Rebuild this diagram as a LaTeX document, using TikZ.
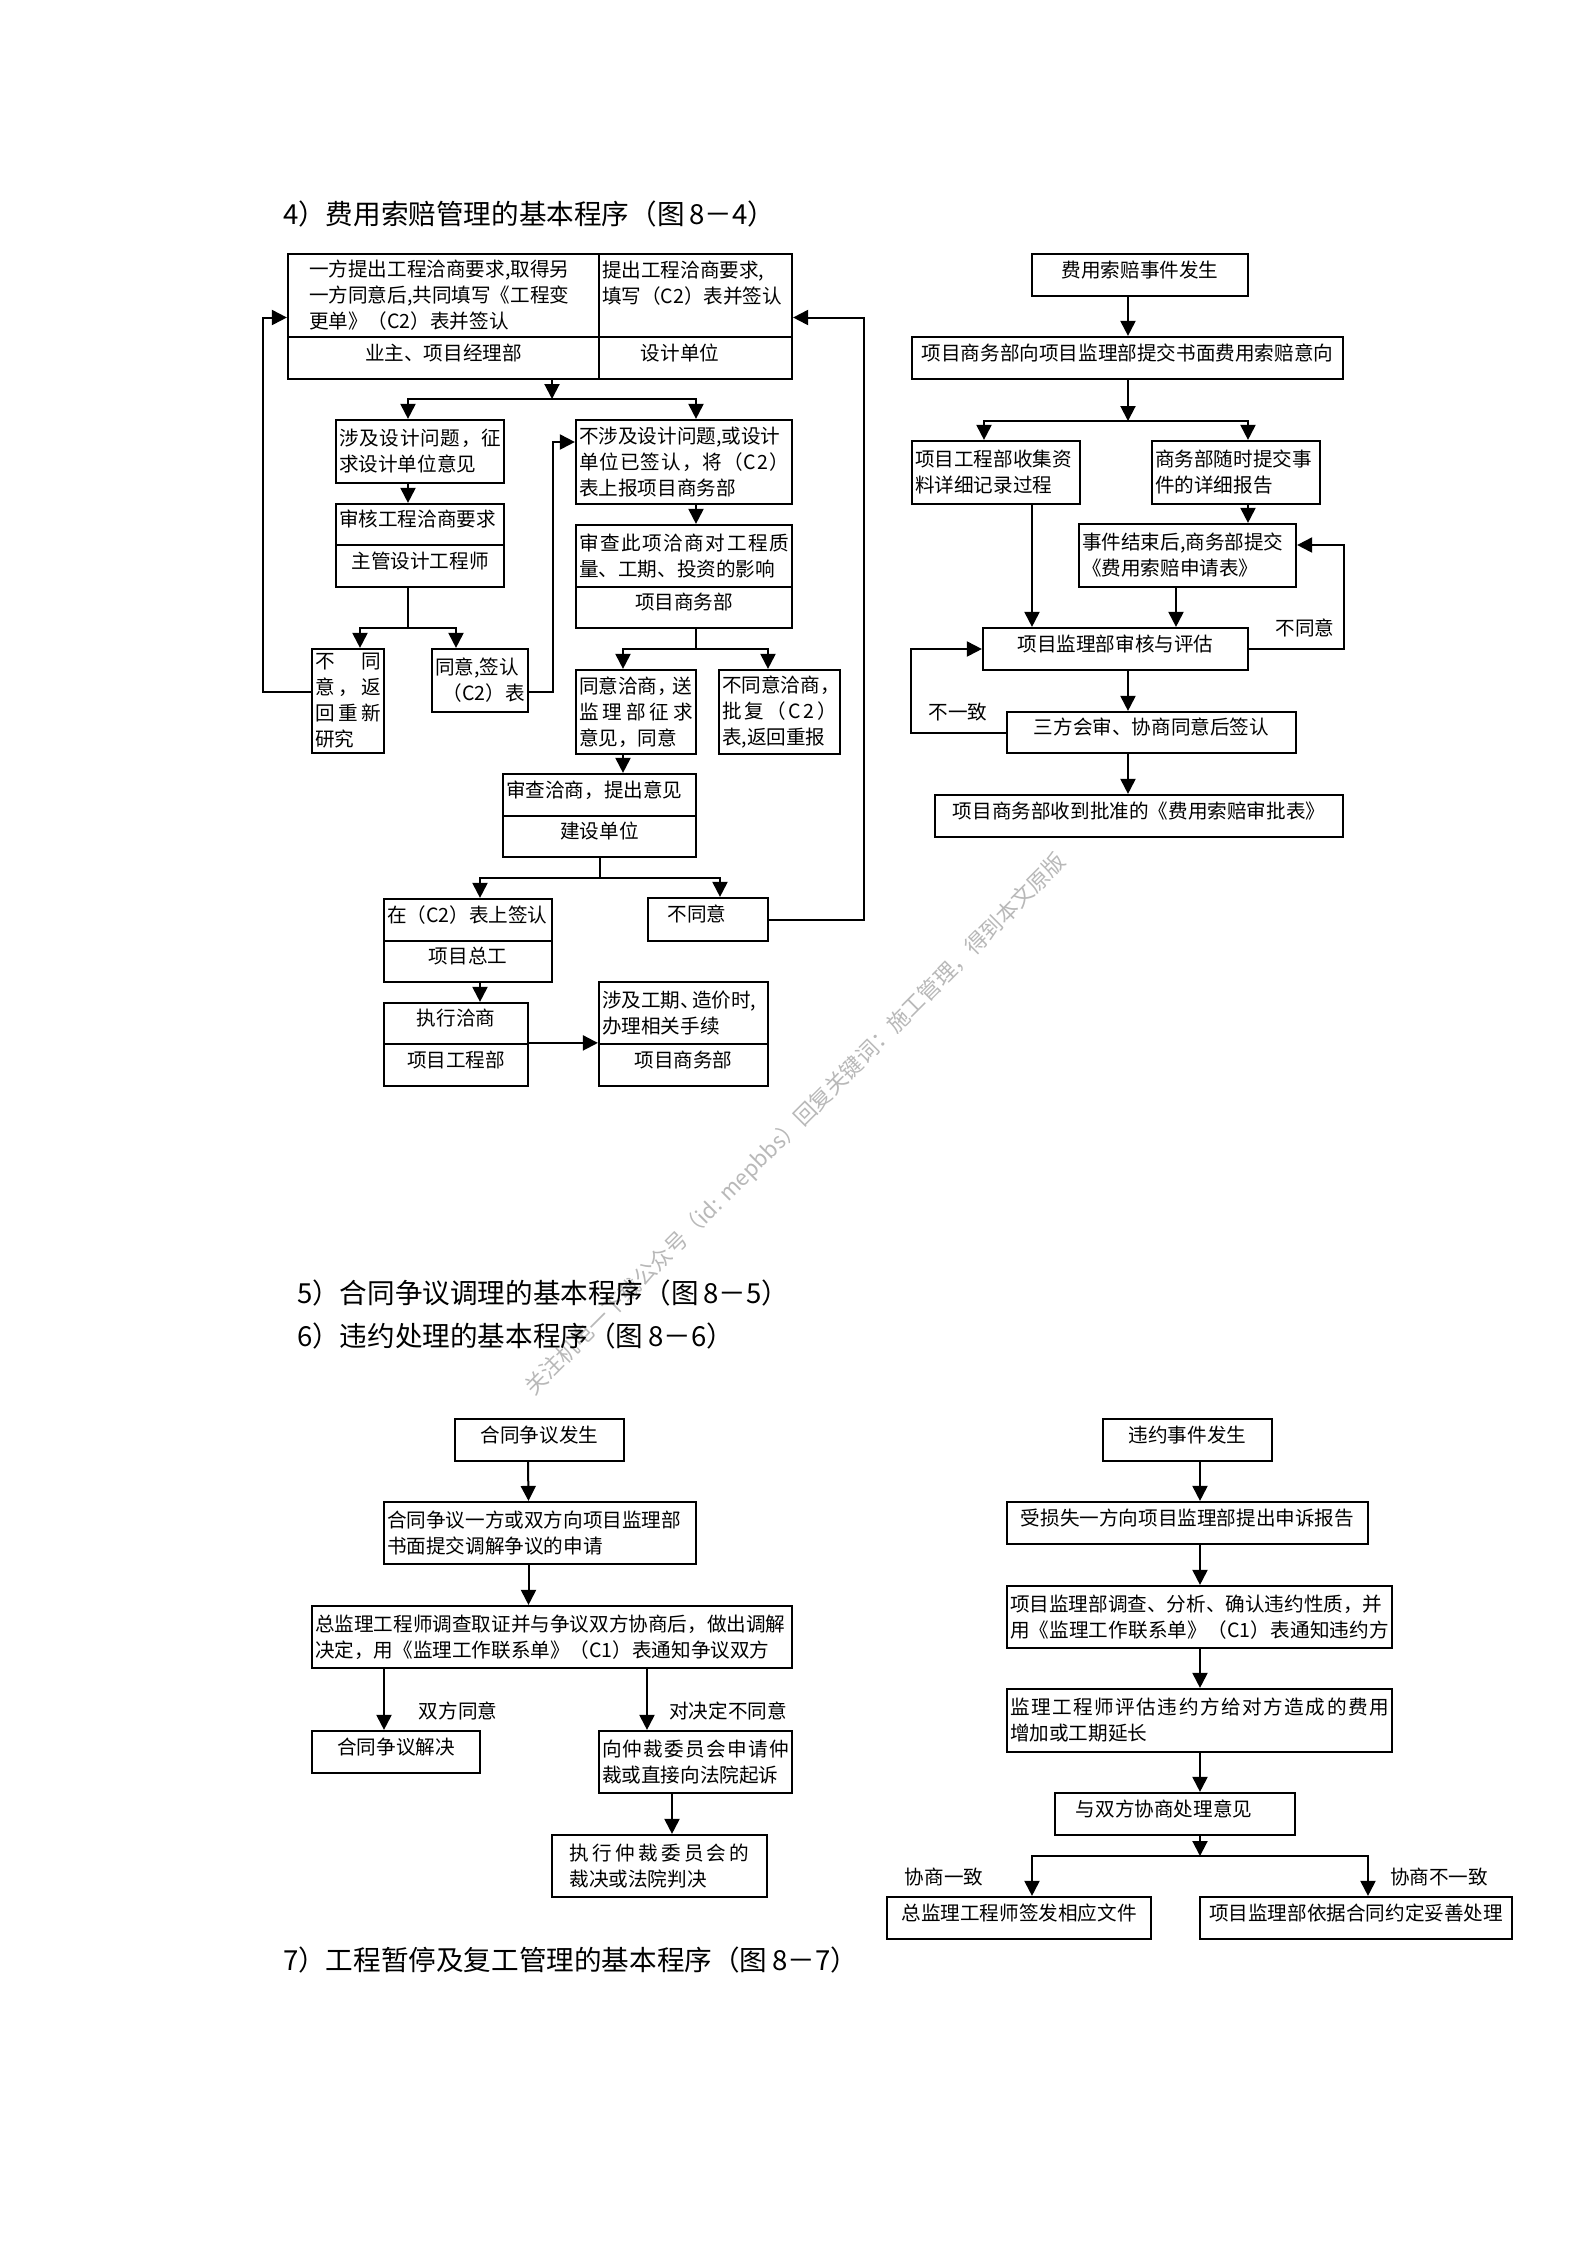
\documentclass[tikz,border=0pt]{standalone}
\usepackage{fontspec}
\setmainfont{Noto Sans CJK SC}
\usetikzlibrary{arrows.meta}
\newcommand\boxfont{\fontsize{9.8pt}{13pt}\selectfont}
\newcommand\ttlfont{\fontsize{13.8pt}{16pt}\selectfont}
% spread the characters of one line over the full text width
\newcommand\spr[1]{\sprA#1\relax}
\def\sprA#1#2{#1\ifx\relax#2\else\hfill\expandafter\sprA\expandafter#2\fi}
\tikzset{
  box/.style={draw,line width=1.1pt,inner xsep=1.5pt,inner ysep=0pt,font=\boxfont,align=left},
  onel/.style={box,text depth=6pt},
  lab/.style={font=\boxfont,inner sep=0pt},
  ttl/.style={font=\ttlfont,anchor=west,inner sep=0pt},
}
\begin{document}
\begin{tikzpicture}[x=0.5pt,y=-0.5pt,line width=1pt,>={Triangle[length=7.5pt,width=7.5pt]}]
  \useasboundingbox (0,0) rectangle (1587,2245);
  \node[rotate=45,text=black!28,font=\fontsize{11pt}{13pt}\selectfont] (wm) at (796,1125) {关注机电一下载公众号（id: mepbbs）回复关键词：施工管理，得到本文原版};

  % fig 8-4, left
  \node[ttl] (t4) at (282,214) {4）费用索赔管理的基本程序（图\,8－4）};
  \node[box,minimum width=155.5pt,minimum height=41.5pt,text width=134.5pt] (tl) at (443.5,295.5) {一方提出工程洽商要求,取得另\\一方同意后,共同填写《工程变\\更单》（C2）表并签认};
  \node[box,minimum width=96.5pt,minimum height=41.5pt,text width=93.5pt] (tr) at (695.5,295.5) {提出工程洽商要求,\\填写（C2）表并签认\\\mbox{}};
  \node[onel,minimum width=155.5pt,minimum height=21pt] (bl) at (443.5,358) {业主、项目经理部};
  \node[onel,minimum width=96.5pt,minimum height=21pt] (br) at (695.5,358) {设计单位\hspace*{15.5pt}};
  \node[box,minimum width=84pt,minimum height=31.5pt,text width=81pt] (A) at (420,451.5) {\spr{涉及设计问题，征}\\求设计单位意见};
  \node[onel,minimum width=84pt,minimum height=20.5pt,text width=81pt] (B) at (420,524.5) {审核工程洽商要求};
  \node[onel,minimum width=84pt,minimum height=21pt] (Br) at (420,566) {主管设计工程师};
  \node[box,minimum width=36pt,minimum height=52pt,text width=33pt] (D) at (348,701) {\spr{不同}\\\spr{意，返}\\\spr{回重新}\\研究};
  \node[box,minimum width=48pt,minimum height=31.5pt,text width=45pt] (E) at (480,680.5) {同意,签认\\\hfill（C2）表};
  \node[box,minimum width=108pt,minimum height=42pt,text width=105pt] (C) at (684,462) {不涉及设计问题,或设计\\\spr{单位已签认，将（C2）}\\表上报项目商务部};
  \node[box,minimum width=108pt,minimum height=31pt,text width=105pt] (F) at (684,556) {\spr{审查此项洽商对工程质}\\量、工期、投资的影响};
  \node[onel,minimum width=108pt,minimum height=20.5pt] (Fr) at (684,607.5) {项目商务部};
  \node[box,minimum width=60pt,minimum height=42pt,text width=57pt] (G) at (636,712) {同意洽商，\kern-.25em 送\\\spr{监理部征求}\\意见，同意};
  \node[box,minimum width=60.5pt,minimum height=42pt,text width=57.5pt] (H) at (779.5,712) {不同意洽商，\\\spr{批复（C2）}\\表,返回重报};
  \node[onel,minimum width=96.5pt,minimum height=21pt,text width=93.5pt] (I) at (599.5,795) {审查洽商，提出意见};
  \node[onel,minimum width=96.5pt,minimum height=20.5pt] (Ir) at (599.5,836.5) {建设单位};
  \node[onel,minimum width=84pt,minimum height=21pt,text width=81pt] (J) at (468,920) {在（C2）表上签认};
  \node[onel,minimum width=84pt,minimum height=20.5pt] (Jr) at (468,961.5) {项目总工};
  \node[onel,minimum width=60pt,minimum height=21.5pt] (K) at (708,919.5) {不同意\hspace*{11pt}};
  \node[onel,minimum width=72pt,minimum height=20.5pt] (L) at (456,1023.5) {执行洽商};
  \node[onel,minimum width=72pt,minimum height=21pt] (Lr) at (456,1065) {项目工程部};
  \node[box,minimum width=84.5pt,minimum height=31pt,text width=81.5pt] (M) at (683.5,1013) {涉及工期、\kern-.4em 造价时,\\办理相关手续};
  \node[onel,minimum width=84.5pt,minimum height=21pt] (Mr) at (683.5,1065) {项目商务部};

  \coordinate (j1) at (552,399);
  \coordinate (j2) at (408,628);
  \coordinate (j3) at (696,649);
  \coordinate (j4) at (600,878);
  \draw[->] (j1 |- bl.south) -- (j1);
  \draw[->] (j1) -| ([xshift=-6pt]A.north);
  \draw[->] (j1) -| ([xshift=6pt]C.north);
  \draw[->] (j2 |- A.south) -- (j2 |- B.north);
  \draw (j2 |- Br.south) -- (j2);
  \draw[->] (j2) -| ([xshift=6pt]D.north);
  \draw[->] (j2) -| ([xshift=-12pt]E.north);
  \draw[->] ([yshift=4.5pt]D.west) -- ++(-48,0) |- ([yshift=-11pt]tl.west);
  \draw[->] ([yshift=-5.75pt]E.east) -- ++(24,0) |- ([yshift=10pt]C.west);
  \draw[->] (j3 |- C.south) -- (j3 |- F.north);
  \draw (j3 |- Fr.south) -- (j3);
  \draw[->] (j3) -| ([xshift=-6.5pt]G.north);
  \draw[->] (j3) -| ([xshift=-5.75pt]H.north);
  \draw[->] ([xshift=-6.5pt]G.south) -- ([xshift=-6.5pt]G.south |- I.north);
  \draw (j4 |- Ir.south) -- (j4);
  \draw[->] (j4) -| ([xshift=6pt]J.north);
  \draw[->] (j4) -| ([xshift=6pt]K.north);
  \draw[->] (K.east) -- ++(95,0) |- ([yshift=-11pt]tr.east);
  \draw[->] ([xshift=6pt]Jr.south) -- ([xshift=12pt]L.north);
  \draw[->] (Lr.north east) -- (Mr.north west);

  % fig 8-4, right
  \node[onel,minimum width=108pt,minimum height=21pt] (R1) at (1140,275) {费用索赔事件发生};
  \node[onel,minimum width=215.5pt,minimum height=21pt] (R2) at (1127.5,358) {项目商务部向项目监理部提交书面费用索赔意向};
  \node[box,minimum width=84pt,minimum height=31.5pt,text width=81pt] (R3) at (996,472.5) {项目工程部收集资\\料详细记录过程};
  \node[box,minimum width=84pt,minimum height=31.5pt,text width=81pt] (R4) at (1236,472.5) {商务部随时提交事\\件的详细报告};
  \node[box,minimum width=108.5pt,minimum height=31.5pt,text width=105.5pt] (R5) at (1187.5,555.5) {事件结束后,商务部提交\\《费用索赔申请表》};
  \node[onel,minimum width=132.5pt,minimum height=21pt] (R6) at (1115.5,649) {项目监理部审核与评估};
  \node[onel,minimum width=144.5pt,minimum height=20.5pt] (R7) at (1151.5,732.5) {三方会审、协商同意后签认};
  \node[onel,minimum width=204pt,minimum height=21pt] (R8) at (1139,816) {项目商务部收到批准的《费用索赔审批表》};
  \node[lab] (l1) at (1305,628) {不同意};
  \node[lab] (l2) at (958,712) {不一致};

  \coordinate (j5) at (1128,421);
  \draw[->] (j5 |- R1.south) -- (j5 |- R2.north);
  \draw[->] (j5 |- R2.south) -- (j5);
  \draw[->] (j5) -| ([xshift=-6pt]R3.north);
  \draw[->] (j5) -| ([xshift=6pt]R4.north);
  \draw[->] ([xshift=6pt]R4.south) -- ([xshift=6pt]R4.south |- R5.north);
  \draw[->] ([xshift=18pt]R3.south) -- ([xshift=18pt]R3.south |- R6.north);
  \draw[->] ([xshift=-5.75pt]R5.south) -- ([xshift=-5.75pt]R5.south |- R6.north);
  \draw[->] (R6.east) -- ++(95,0) |- ([yshift=5.25pt]R5.east);
  \draw[->] (j5 |- R6.south) -- (j5 |- R7.north);
  \draw[->] (R7.west) -- ++(-95,0) |- (R6.west);
  \draw[->] (j5 |- R7.south) -- (j5 |- R8.north);

  % fig 8-5
  \node[ttl] (t5) at (296,1293) {5）合同争议调理的基本程序（图\,8－5）};
  \node[ttl] (t6) at (296,1336) {6）违约处理的基本程序（图\,8－6）};
  \node[onel,minimum width=84.5pt,minimum height=21pt] (S1) at (539.5,1440) {合同争议发生};
  \node[box,minimum width=156pt,minimum height=31pt,text width=153pt] (S2) at (540,1533) {合同争议一方或双方向项目监理部\\书面提交调解争议的申请};
  \node[box,minimum width=240pt,minimum height=31pt,text width=237pt] (S3) at (552,1637) {总监理工程师调查取证并与争议双方协商后，做出调解\\决定，用《监理工作联系单》（C1）表通知争议双方};
  \node[onel,minimum width=84pt,minimum height=21pt] (S4) at (396,1752) {合同争议解决};
  \node[box,minimum width=96.5pt,minimum height=31pt,text width=93.5pt] (S5) at (695.5,1762) {\spr{向仲裁委员会申请仲}\\裁或直接向法院起诉};
  \node[box,minimum width=107.5pt,minimum height=31pt,text width=90pt] (S6) at (659.5,1866) {\spr{执行仲裁委员会的}\\裁决或法院判决};
  \node[lab] (l3) at (458,1711) {双方同意};
  \node[lab] (l4) at (728,1711) {对决定不同意};

  \draw[->] ([xshift=-5.75pt]S1.south) -- ([xshift=-5.75pt]S2.north);
  \draw[->] ([xshift=-5.75pt]S2.south) -- ([xshift=-5.75pt]S2.south |- S3.north);
  \draw[->] ([xshift=-6pt]S4.north |- S3.south) -- ([xshift=-6pt]S4.north);
  \draw[->] ([xshift=-24.25pt]S5.north |- S3.south) -- ([xshift=-24.25pt]S5.north);
  \draw[->] ([xshift=-11.75pt]S5.south) -- ([xshift=-11.75pt]S5.south |- S6.north);

  % fig 8-6
  \node[onel,minimum width=84.5pt,minimum height=21pt] (T1) at (1187.5,1440) {违约事件发生};
  \node[onel,minimum width=180.5pt,minimum height=21pt] (T2) at (1187.5,1523) {受损失一方向项目监理部提出申诉报告};
  \node[box,minimum width=192.5pt,minimum height=31pt,text width=189.5pt] (T3) at (1199.5,1617) {项目监理部调查、分析、确认违约性质，并\\\spr{用《监理工作联系单》（C1）表通知违约方}};
  \node[box,minimum width=192.5pt,minimum height=31.5pt,text width=189.5pt] (T4) at (1199.5,1720.5) {\spr{监理工程师评估违约方给对方造成的费用}\\增加或工期延长};
  \node[onel,minimum width=120pt,minimum height=21pt] (T5) at (1175,1814) {与双方协商处理意见\hspace*{11pt}};
  \node[onel,minimum width=132pt,minimum height=21pt] (T6) at (1019,1918) {总监理工程师签发相应文件};
  \node[onel,minimum width=156pt,minimum height=21pt] (T7) at (1356,1918) {项目监理部依据合同约定妥善处理};
  \node[lab] (l5) at (944,1877) {协商一致};
  \node[lab] (l6) at (1439,1877) {协商不一致};

  \coordinate (j6) at (1200,1856);
  \draw[->] (j6 |- T1.south) -- (j6 |- T2.north);
  \draw[->] (j6 |- T2.south) -- (j6 |- T3.north);
  \draw[->] (j6 |- T3.south) -- (j6 |- T4.north);
  \draw[->] (j6 |- T4.south) -- (j6 |- T5.north);
  \draw[->] (j6 |- T5.south) -- (j6);
  \draw[->] (j6) -| ([xshift=6.5pt]T6.north);
  \draw[->] (j6) -| ([xshift=6pt]T7.north);

  \node[ttl] (t7) at (282,1960) {7）工程暂停及复工管理的基本程序（图\,8－7）};
\end{tikzpicture}
\end{document}
